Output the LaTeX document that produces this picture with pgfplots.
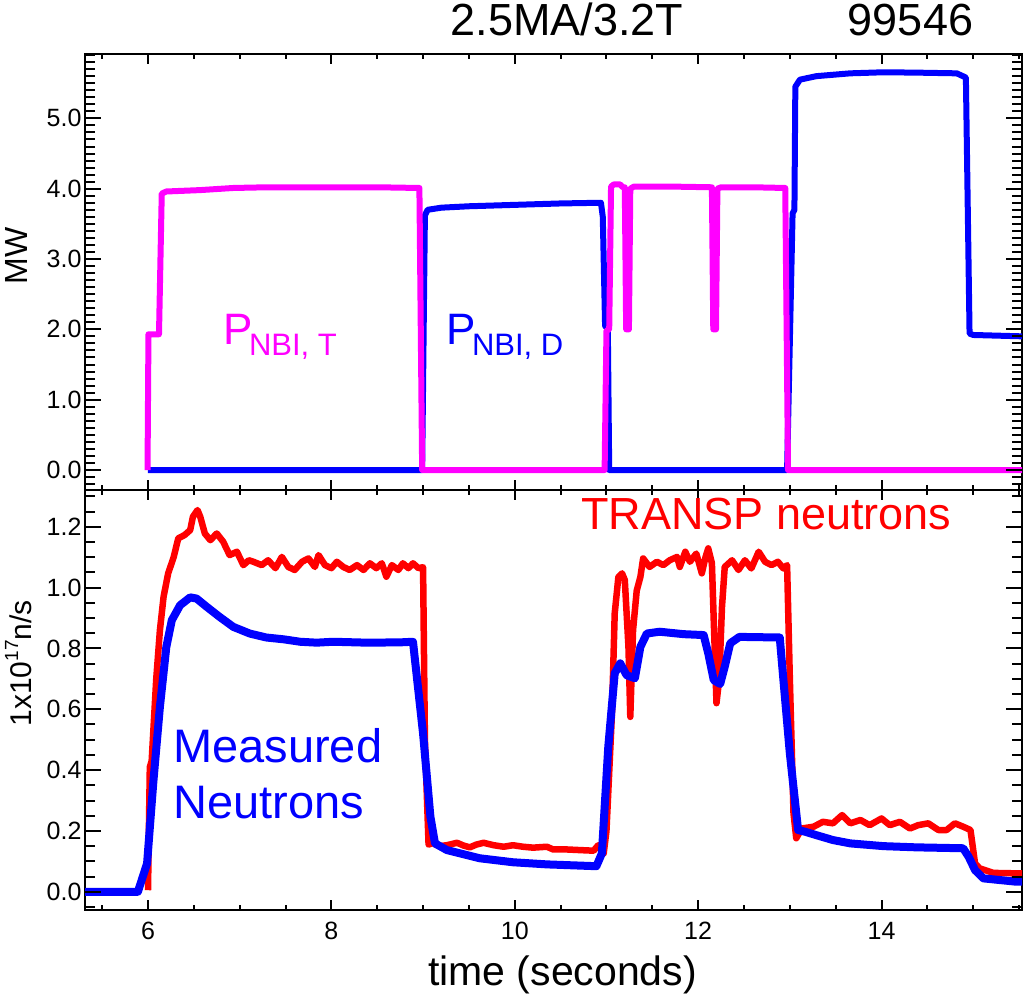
\documentclass[border=0pt]{standalone}
\usepackage{fontspec}
\setmainfont{Liberation Sans}
\usepackage{pgfplots}
\pgfplotsset{compat=1.18}

\definecolor{nbiT}{RGB}{255,0,255}
\definecolor{nbiD}{RGB}{0,0,255}
\definecolor{transp}{RGB}{255,0,0}
\definecolor{meas}{RGB}{0,0,255}

\newcommand{\fs}[1]{\fontsize{#1}{#1}\selectfont}

\tikzset{tk/.style={black, line width=2pt}}

\pgfplotsset{
  shot/.style={
    scale only axis, width=937pt,
    xmin=5.313, xmax=15.532,
    xtick={6,8,...,14},
    major tick length=0pt, minor tick length=0pt,
    axis line style={line width=1.8pt},
    tick label style={font=\fs{25}},
    /pgf/number format/assume math mode=true,
    yticklabel style={/pgf/number format/fixed,/pgf/number format/fixed zerofill,/pgf/number format/precision=1},
    every axis plot/.append style={line join=round},
  },
}

% IDL-style inward ticks on all four sides
% #1 = ymin, #2 = ymax
\newcommand{\timeticks}[2]{%
  \pgfplotsinvokeforeach{5.5,6,...,15.5}{%
    \draw[tk] (axis cs:##1,#1) -- ++(0pt,5pt);
    \draw[tk] (axis cs:##1,#2) -- ++(0pt,-5pt);}%
  \pgfplotsinvokeforeach{6,8,...,14}{%
    \draw[tk] (axis cs:##1,#1) -- ++(0pt,10pt);
    \draw[tk] (axis cs:##1,#2) -- ++(0pt,-10pt);}%
}
% #1 = list of minor values, #2 = list of major values
\newcommand{\valueticks}[2]{%
  \pgfplotsinvokeforeach{#1}{%
    \draw[tk] (axis cs:5.313,##1) -- ++(10pt,0pt);
    \draw[tk] (axis cs:15.532,##1) -- ++(-10pt,0pt);}%
  \pgfplotsinvokeforeach{#2}{%
    \draw[tk] (axis cs:5.313,##1) -- ++(16pt,0pt);
    \draw[tk] (axis cs:15.532,##1) -- ++(-16pt,0pt);}%
}

\begin{document}
\begin{tikzpicture}
\useasboundingbox (-85pt,-86pt) rectangle (940pt,910pt);

% ---------------- beam power ----------------
\begin{axis}[shot, at={(0pt,420pt)}, height=436pt,
  ymin=-0.284, ymax=5.915,
  ytick={0,1,...,5}, xticklabels={}]
\addplot[nbiD, line width=6pt] coordinates {
(6.00,0) (8.99,0) (9.02,3.62) (9.05,3.70) (9.2,3.73) (9.5,3.75) (10.0,3.77)
(10.5,3.79) (10.94,3.80) (10.96,3.60) (10.985,2.05) (11.015,2.00) (11.03,0)
(12.97,0) (13.03,3.65) (13.05,3.70) (13.06,5.45) (13.11,5.55) (13.29,5.60)
(13.66,5.64) (14.02,5.655) (14.38,5.65) (14.82,5.64) (14.92,5.58) (14.96,1.94)
(15.0,1.92) (15.55,1.90)};
\addplot[nbiT, line width=6pt] coordinates {
(5.995,0) (6.005,1.93) (6.12,1.93) (6.15,3.93) (6.20,3.96) (6.57,3.98)
(6.93,4.01) (7.3,4.02) (8.0,4.02) (8.5,4.02) (8.96,4.01) (8.99,0)
(10.98,0) (11.00,1.98) (11.03,2.00) (11.05,4.03) (11.08,4.06) (11.15,4.06)
(11.18,4.02) (11.20,4.02) (11.215,2.0) (11.245,2.0) (11.26,4.0) (11.30,4.03)
(11.7,4.03) (12.15,4.02) (12.165,2.0) (12.195,2.0) (12.21,4.0) (12.25,4.02)
(12.6,4.02) (12.95,4.01) (12.98,0) (15.55,0)};
\timeticks{-0.284}{5.915}
\valueticks{-0.2,-0.1,...,5.9}{0,1,...,5}
\end{axis}

% ---------------- neutron rate ----------------
\begin{axis}[shot, height=420pt,
  ymin=-0.060, ymax=1.321,
  ytick={0,0.2,...,1.2},
  xticklabel style={yshift=-9pt}]
\addplot[transp, line width=6.5pt] coordinates {
(6.00,0.005) (6.02,0.41) (6.04,0.43) (6.09,0.70) (6.13,0.86) (6.17,0.97)
(6.22,1.047) (6.28,1.10) (6.33,1.162) (6.40,1.173) (6.46,1.189) (6.49,1.233)
(6.54,1.255) (6.57,1.233) (6.62,1.178) (6.68,1.156) (6.75,1.178) (6.82,1.151)
(6.89,1.107) (6.97,1.118) (7.04,1.074) (7.10,1.09) (7.15,1.085) (7.24,1.074)
(7.31,1.09) (7.39,1.064) (7.46,1.101) (7.53,1.068) (7.60,1.058) (7.68,1.085)
(7.75,1.096) (7.82,1.068) (7.86,1.107) (7.93,1.074) (8.00,1.064) (8.06,1.085)
(8.13,1.068) (8.20,1.058) (8.28,1.074) (8.35,1.058) (8.42,1.08) (8.49,1.064)
(8.55,1.08) (8.60,1.036) (8.66,1.074) (8.73,1.058) (8.78,1.08) (8.84,1.064)
(8.89,1.08) (8.95,1.064) (9.00,1.067) (9.02,0.5) (9.06,0.155) (9.10,0.16)
(9.18,0.15) (9.26,0.153) (9.37,0.161) (9.44,0.152) (9.51,0.146) (9.58,0.155)
(9.66,0.161) (9.77,0.153) (9.88,0.148) (9.98,0.153) (10.09,0.148) (10.2,0.145)
(10.35,0.148) (10.42,0.139) (10.57,0.139) (10.71,0.137) (10.86,0.135) (10.91,0.153)
(10.97,0.126) (11.00,0.2) (11.06,0.586) (11.09,0.915) (11.13,1.035) (11.17,1.047)
(11.20,1.025) (11.24,0.805) (11.26,0.575) (11.29,0.86) (11.33,0.99) (11.37,1.035)
(11.40,1.096) (11.47,1.068) (11.55,1.085) (11.62,1.074) (11.69,1.09) (11.77,1.101)
(11.80,1.068) (11.86,1.118) (11.91,1.085) (11.98,1.112) (12.04,1.047) (12.08,1.10)
(12.11,1.129) (12.15,1.08) (12.17,0.893) (12.20,0.62) (12.23,0.70) (12.26,0.937)
(12.29,1.068) (12.37,1.09) (12.44,1.058) (12.51,1.09) (12.58,1.063) (12.66,1.118)
(12.73,1.085) (12.80,1.074) (12.87,1.085) (12.93,1.063) (12.97,1.074) (13.00,0.70)
(13.04,0.258) (13.07,0.176) (13.13,0.208) (13.26,0.214) (13.36,0.23) (13.47,0.225)
(13.57,0.252) (13.66,0.225) (13.77,0.236) (13.87,0.219) (14.00,0.241) (14.09,0.219)
(14.20,0.23) (14.31,0.208) (14.40,0.219) (14.51,0.225) (14.62,0.203) (14.71,0.203)
(14.80,0.225) (14.89,0.214) (14.97,0.203) (15.02,0.093) (15.07,0.077) (15.22,0.062)
(15.55,0.06)};
\addplot[meas, line width=8pt] coordinates {
(5.30,0.0) (5.89,0.0) (5.99,0.093) (6.06,0.367) (6.13,0.608) (6.20,0.805)
(6.26,0.893) (6.35,0.942) (6.46,0.968) (6.53,0.964) (6.64,0.937) (6.78,0.904)
(6.93,0.871) (7.11,0.849) (7.29,0.836) (7.48,0.83) (7.66,0.822) (7.84,0.819)
(8.02,0.822) (8.39,0.819) (8.75,0.82) (8.89,0.822) (9.00,0.52) (9.08,0.247)
(9.13,0.159) (9.26,0.137) (9.62,0.11) (9.98,0.097) (10.35,0.09) (10.71,0.086)
(10.89,0.084) (10.95,0.126) (11.02,0.477) (11.09,0.718) (11.15,0.751) (11.22,0.712)
(11.31,0.702) (11.37,0.805) (11.44,0.849) (11.58,0.855) (11.84,0.847) (12.06,0.844)
(12.11,0.784) (12.17,0.696) (12.24,0.683) (12.29,0.74) (12.35,0.817) (12.45,0.838)
(12.89,0.836) (12.93,0.696) (13.00,0.455) (13.09,0.203) (13.17,0.197) (13.29,0.186)
(13.47,0.17) (13.66,0.159) (14.02,0.15) (14.38,0.146) (14.89,0.143) (14.95,0.115)
(15.02,0.071) (15.11,0.044) (15.47,0.033) (15.55,0.033)};
\timeticks{-0.060}{1.321}
\valueticks{-0.05,0,...,1.3}{0,0.2,...,1.2}
\end{axis}

% titles and labels
\node[anchor=base, font=\fs{45}] at (482pt,874pt) {2.5MA/3.2T};
\node[anchor=base, font=\fs{45}] at (825.5pt,874pt) {99546};
\node[rotate=90, font=\fs{32}] at (-69pt,654pt) {MW};
\node[rotate=90, font=\fs{30}] at (-66.5pt,246.5pt) {1x10\raisebox{0.45em}{\fs{19}17}n/s};
\node[anchor=base, font=\fs{41}] at (477.5pt,-75pt) {time (seconds)};

\node[anchor=base west, inner sep=0pt, text=nbiT, font=\fs{44}] at (138.5pt,565pt)
  {P\hspace{-4pt}\raisebox{-11pt}{\fs{31}NBI, T}};
\node[anchor=base west, inner sep=0pt, text=nbiD, font=\fs{44}] at (361.5pt,565pt)
  {P\hspace{-4pt}\raisebox{-11pt}{\fs{31}NBI, D}};
\node[anchor=base west, inner sep=0pt, text=transp, font=\fs{45}] at (496pt,380pt) {TRANSP neutrons};
\node[anchor=base west, inner sep=0pt, text=meas, font=\fs{47}] at (88pt,147pt) {Measured};
\node[anchor=base west, inner sep=0pt, text=meas, font=\fs{47}] at (88pt,92pt) {Neutrons};
\end{tikzpicture}
\end{document}
